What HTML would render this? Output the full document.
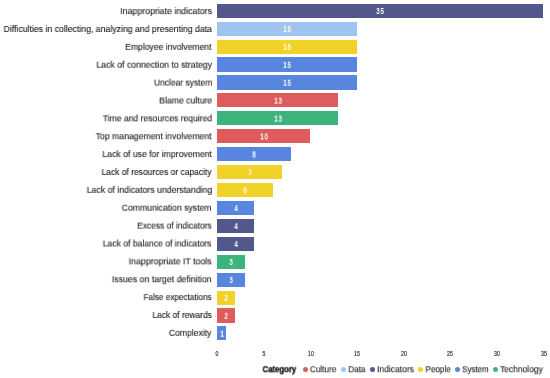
<!DOCTYPE html>
<html><head><meta charset="utf-8"><title>Chart</title>
<style>
html,body{margin:0;padding:0;background:#fff;}
body{width:550px;height:378px;position:relative;overflow:hidden;font-family:"Liberation Sans",sans-serif;}
.b{position:absolute;height:14.1px;}
.l{position:absolute;top:0;right:338.2px;white-space:nowrap;font-size:9.2px;color:#202020;-webkit-text-stroke:0.12px #202020;line-height:14px;height:14px;transform-origin:100% 50%;will-change:transform;}
.v{position:absolute;top:0;color:#fff;font-weight:bold;font-size:9.4px;letter-spacing:0.8px;text-indent:0.8px;line-height:14px;height:14px;text-align:center;width:30px;margin-left:-15px;will-change:transform;}
.t{position:absolute;top:343.5px;width:40px;margin-left:-20px;text-align:center;font-size:12px;color:#333;-webkit-text-stroke:0.35px #333;line-height:20px;transform:scale(0.435,0.55);transform-origin:50% 50%;}
.lg{position:absolute;top:0;left:0;font-size:9.2px;line-height:14px;color:#202020;-webkit-text-stroke:0.12px #202020;white-space:nowrap;transform-origin:0 50%;will-change:transform;}
.d{position:absolute;top:366.95px;width:5px;height:5px;border-radius:50%;margin-left:-2.5px;}
</style></head><body>

<div class="l" style="transform:translateY(4.10px) scaleX(0.9562)">Inappropriate indicators</div>
<div class="b" style="left:216.7px;top:3.70px;width:326.4px;background:#52588C"></div>
<div class="v" style="left:380.1px;transform:translateY(4.00px) scaleX(0.7)">35</div>
<div class="l" style="transform:translateY(21.98px) scaleX(0.9474)">Difficulties in collecting, analyzing and presenting data</div>
<div class="b" style="left:216.7px;top:21.63px;width:139.9px;background:#A0C4F0"></div>
<div class="v" style="left:286.8px;transform:translateY(21.93px) scaleX(0.7)">15</div>
<div class="l" style="transform:translateY(39.85px) scaleX(0.9331)">Employee involvement</div>
<div class="b" style="left:216.7px;top:39.56px;width:139.9px;background:#F0D228"></div>
<div class="v" style="left:286.8px;transform:translateY(39.86px) scaleX(0.7)">15</div>
<div class="l" style="transform:translateY(57.72px) scaleX(0.9478)">Lack of connection to strategy</div>
<div class="b" style="left:216.7px;top:57.48px;width:139.9px;background:#5886DE"></div>
<div class="v" style="left:286.8px;transform:translateY(57.78px) scaleX(0.7)">15</div>
<div class="l" style="transform:translateY(75.60px) scaleX(0.9222)">Unclear system</div>
<div class="b" style="left:216.7px;top:75.41px;width:139.9px;background:#5886DE"></div>
<div class="v" style="left:286.8px;transform:translateY(75.71px) scaleX(0.7)">15</div>
<div class="l" style="transform:translateY(93.47px) scaleX(0.9435)">Blame culture</div>
<div class="b" style="left:216.7px;top:93.34px;width:121.2px;background:#DE5C5C"></div>
<div class="v" style="left:277.5px;transform:translateY(93.64px) scaleX(0.7)">13</div>
<div class="l" style="transform:translateY(111.35px) scaleX(0.9335)">Time and resources required</div>
<div class="b" style="left:216.7px;top:111.27px;width:121.2px;background:#3CB47D"></div>
<div class="v" style="left:277.5px;transform:translateY(111.57px) scaleX(0.7)">13</div>
<div class="l" style="transform:translateY(129.22px) scaleX(0.9455)">Top management involvement</div>
<div class="b" style="left:216.7px;top:129.20px;width:93.2px;background:#DE5C5C"></div>
<div class="v" style="left:263.5px;transform:translateY(129.50px) scaleX(0.7)">10</div>
<div class="l" style="transform:translateY(147.10px) scaleX(0.9451)">Lack of use for improvement</div>
<div class="b" style="left:216.7px;top:147.12px;width:74.6px;background:#5886DE"></div>
<div class="v" style="left:254.2px;transform:translateY(147.42px) scaleX(0.7)">8</div>
<div class="l" style="transform:translateY(164.97px) scaleX(0.9199)">Lack of resources or capacity</div>
<div class="b" style="left:216.7px;top:165.05px;width:65.3px;background:#F0D228"></div>
<div class="v" style="left:249.5px;transform:translateY(165.35px) scaleX(0.7)">7</div>
<div class="l" style="transform:translateY(182.85px) scaleX(0.9491)">Lack of indicators understanding</div>
<div class="b" style="left:216.7px;top:182.98px;width:55.9px;background:#F0D228"></div>
<div class="v" style="left:244.9px;transform:translateY(183.28px) scaleX(0.7)">6</div>
<div class="l" style="transform:translateY(200.72px) scaleX(0.9406)">Communication system</div>
<div class="b" style="left:216.7px;top:200.91px;width:37.3px;background:#5886DE"></div>
<div class="v" style="left:235.5px;transform:translateY(201.21px) scaleX(0.7)">4</div>
<div class="l" style="transform:translateY(218.60px) scaleX(0.9116)">Excess of indicators</div>
<div class="b" style="left:216.7px;top:218.84px;width:37.3px;background:#52588C"></div>
<div class="v" style="left:235.5px;transform:translateY(219.14px) scaleX(0.7)">4</div>
<div class="l" style="transform:translateY(236.47px) scaleX(0.9333)">Lack of balance of indicators</div>
<div class="b" style="left:216.7px;top:236.76px;width:37.3px;background:#52588C"></div>
<div class="v" style="left:235.5px;transform:translateY(237.06px) scaleX(0.7)">4</div>
<div class="l" style="transform:translateY(254.35px) scaleX(0.9576)">Inappropriate IT tools</div>
<div class="b" style="left:216.7px;top:254.69px;width:28.0px;background:#3CB47D"></div>
<div class="v" style="left:230.9px;transform:translateY(254.99px) scaleX(0.7)">3</div>
<div class="l" style="transform:translateY(272.23px) scaleX(0.9539)">Issues on target definition</div>
<div class="b" style="left:216.7px;top:272.62px;width:28.0px;background:#5886DE"></div>
<div class="v" style="left:230.9px;transform:translateY(272.92px) scaleX(0.7)">3</div>
<div class="l" style="transform:translateY(290.10px) scaleX(0.8884)">False expectations</div>
<div class="b" style="left:216.7px;top:290.55px;width:18.6px;background:#F0D228"></div>
<div class="v" style="left:226.2px;transform:translateY(290.85px) scaleX(0.7)">2</div>
<div class="l" style="transform:translateY(307.98px) scaleX(0.9168)">Lack of rewards</div>
<div class="b" style="left:216.7px;top:308.48px;width:18.6px;background:#DE5C5C"></div>
<div class="v" style="left:226.2px;transform:translateY(308.78px) scaleX(0.7)">2</div>
<div class="l" style="transform:translateY(325.85px) scaleX(0.9381)">Complexity</div>
<div class="b" style="left:216.7px;top:326.40px;width:9.3px;background:#5886DE"></div>
<div class="v" style="left:221.6px;transform:translateY(326.70px) scaleX(0.7)">1</div>
<div class="t" style="left:217.2px">0</div>
<div class="t" style="left:263.9px">5</div>
<div class="t" style="left:310.5px">10</div>
<div class="t" style="left:357.1px">15</div>
<div class="t" style="left:403.8px">20</div>
<div class="t" style="left:450.4px">25</div>
<div class="t" style="left:497.0px">30</div>
<div class="t" style="left:543.6px">35</div>
<div class="lg" style="font-weight:bold;-webkit-text-stroke-width:0.45px;transform:translate(262.58px,362.2px) scaleX(0.8422)">Category</div>
<div class="d" style="left:305.4px;background:#DE5C5C"></div>
<div class="lg" style="transform:translate(309.84px,362.2px) scaleX(0.8956)">Culture</div>
<div class="d" style="left:343.5px;background:#A0C4F0"></div>
<div class="lg" style="transform:translate(348.29px,362.2px) scaleX(0.8842)">Data</div>
<div class="d" style="left:372.6px;background:#52588C"></div>
<div class="lg" style="transform:translate(377.06px,362.2px) scaleX(0.9262)">Indicators</div>
<div class="d" style="left:420.8px;background:#F0D228"></div>
<div class="lg" style="transform:translate(425.48px,362.2px) scaleX(0.8811)">People</div>
<div class="d" style="left:457.6px;background:#5886DE"></div>
<div class="lg" style="transform:translate(462.26px,362.2px) scaleX(0.8579)">System</div>
<div class="d" style="left:495.5px;background:#3CB47D"></div>
<div class="lg" style="transform:translate(500.00px,362.2px) scaleX(0.9205)">Technology</div>
</body></html>
